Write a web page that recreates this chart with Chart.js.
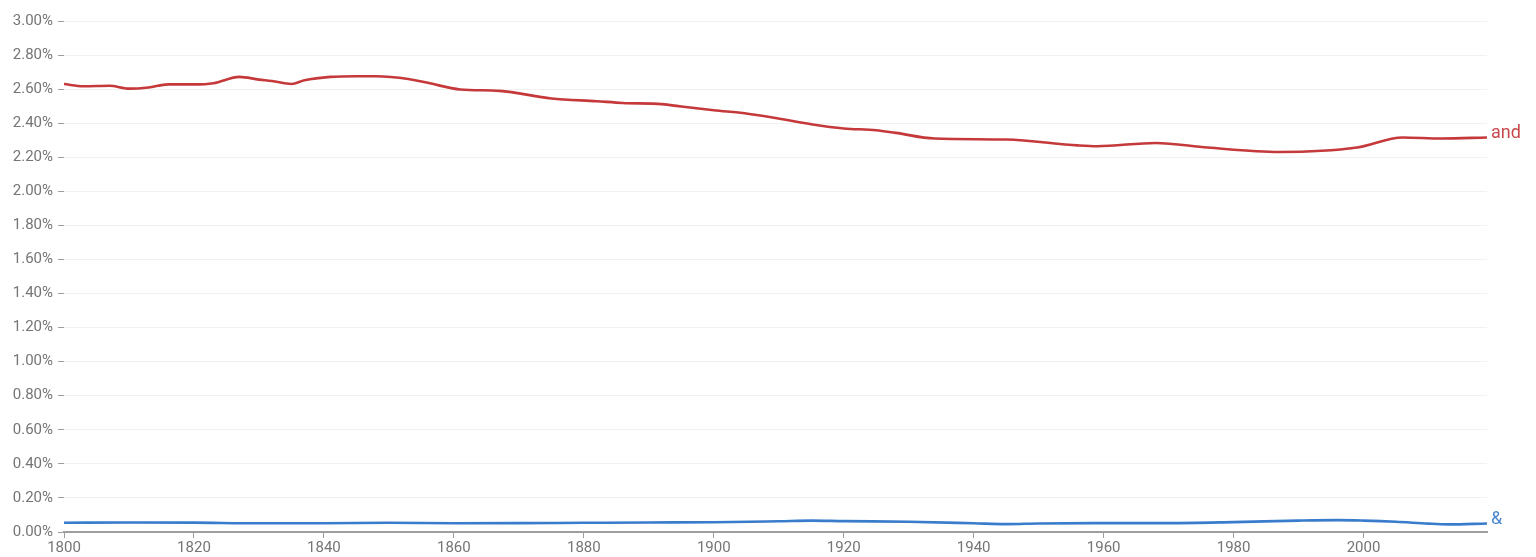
<!DOCTYPE html>
<html>
<head>
<meta charset="utf-8">
<script src="https://cdn.jsdelivr.net/npm/chart.js@4"></script>
<style>
  html, body { margin: 0; padding: 0; background: #fff; }
  #wrap { width: 1536px; height: 557px; }
</style>
</head>
<body>
<div id="wrap"><canvas id="ngram"></canvas></div>
<script>
// years (irregular, where the curve changes)
const andYears = [1800, 1803, 1807, 1810, 1813, 1816, 1820, 1823, 1827, 1830, 1832, 1835, 1837, 1841, 1845, 1848, 1853, 1856, 1861, 1867, 1875, 1882, 1886, 1892, 1895, 1900, 1905, 1909, 1915, 1920, 1925, 1928, 1934, 1945, 1956, 1959, 1968, 1976, 1987, 1999, 2006, 2012, 2019];
const andValues = [2.630, 2.617, 2.620, 2.603, 2.610, 2.628, 2.628, 2.635, 2.672, 2.656, 2.648, 2.630, 2.652, 2.672, 2.676, 2.676, 2.660, 2.637, 2.598, 2.590, 2.545, 2.529, 2.519, 2.512, 2.498, 2.476, 2.457, 2.434, 2.394, 2.369, 2.359, 2.343, 2.310, 2.304, 2.270, 2.265, 2.284, 2.257, 2.231, 2.257, 2.316, 2.310, 2.316];

const ampYears = [1800, 1810, 1820, 1830, 1840, 1850, 1860, 1870, 1880, 1890, 1900, 1910, 1915, 1920, 1930, 1940, 1945, 1950, 1960, 1970, 1980, 1990, 1996, 2000, 2005, 2010, 2013, 2019];
const ampValues = [0.054, 0.056, 0.055, 0.051, 0.051, 0.054, 0.051, 0.052, 0.054, 0.056, 0.057, 0.063, 0.067, 0.064, 0.060, 0.051, 0.046, 0.050, 0.052, 0.052, 0.058, 0.067, 0.070, 0.067, 0.060, 0.049, 0.045, 0.050];

const seriesNames = ['and', '&'];
const seriesColors = ['#c5393b', '#3a7ccc'];
const labelColors = ['#c9484c', '#4a86cf'];

const toPoints = (xs, ys) => xs.map((x, i) => ({ x: x, y: ys[i] }));

// name at the right end of each line
const endLabels = {
    id: 'endLabels',
    afterDatasetsDraw(chart) {
        const ctx = chart.ctx;
        ctx.save();
        ctx.font = '18px Roboto';
        ctx.textBaseline = 'middle';
        ctx.textAlign = 'left';
        chart.data.datasets.forEach((ds, i) => {
            const meta = chart.getDatasetMeta(i);
            const last = meta.data[meta.data.length - 1];
            ctx.fillStyle = labelColors[i];
            ctx.fillText(ds.label, last.x + 4, last.y - 4);
        });
        ctx.restore();
    }
};

new Chart(document.getElementById('ngram').getContext('2d'), {
    type: 'line',
    data: {
        datasets: [
            {
                label: seriesNames[0],
                data: toPoints(andYears, andValues),
                borderColor: seriesColors[0],
                borderWidth: 2.6,
                pointRadius: 0,
                cubicInterpolationMode: 'monotone'
            },
            {
                label: seriesNames[1],
                data: toPoints(ampYears, ampValues),
                borderColor: seriesColors[1],
                borderWidth: 2.6,
                pointRadius: 0,
                cubicInterpolationMode: 'monotone'
            }
        ]
    },
    options: {
        responsive: true,
        maintainAspectRatio: false,
        animation: false,
        layout: { padding: { top: 21, right: 49, left: 0, bottom: 0 } },
        plugins: {
            legend: { display: false },
            tooltip: { enabled: false }
        },
        scales: {
            x: {
                type: 'linear',
                min: 1800,
                max: 2019,
                afterBuildTicks: scale => {
                    scale.ticks = scale.ticks.filter(t => t.value % 20 === 0);
                },
                afterFit: scale => { scale.height = 25; },
                ticks: {
                    stepSize: 20,
                    color: '#757575',
                    font: { family: 'Roboto', size: 15 },
                    padding: 1,
                    maxRotation: 0,
                    callback: v => String(v)
                },
                grid: {
                    drawOnChartArea: false,
                    tickLength: 6,
                    tickColor: '#9e9e9e',
                    tickWidth: 1
                },
                border: { color: '#9e9e9e', width: 2 }
            },
            y: {
                min: 0,
                max: 3,
                afterFit: scale => { scale.width = 64; },
                ticks: {
                    stepSize: 0.2,
                    color: '#757575',
                    font: { family: 'Roboto', size: 15 },
                    padding: 5,
                    callback: v => v.toFixed(2) + '%'
                },
                grid: {
                    color: '#f1f1f1',
                    tickLength: 6,
                    tickColor: '#9e9e9e',
                    tickWidth: 1
                },
                border: { display: false }
            }
        }
    },
    plugins: [endLabels]
});
</script>
</body>
</html>
